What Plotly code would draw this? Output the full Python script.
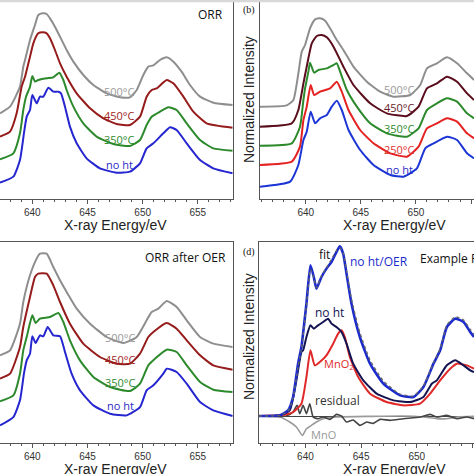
import plotly.graph_objects as go

W = H = 474

# ---------------- Panel (a): ORR ----------------
a_500_E = [637.07,637.98,638.88,639.18,639.34,639.79,640.24,640.54,640.94,641.30,641.60,642.05,642.51,643.11,643.72,644.62,645.53,646.74,647.95,648.85,649.46,650.06,650.51,650.97,651.57,652.18,652.78,653.53,654.29,655.20,656.40,658.16]
a_500_I = [2.57,2.77,3.37,3.97,4.17,4.77,5.22,5.52,5.57,5.55,5.42,5.17,4.87,4.47,4.12,3.72,3.42,3.17,3.05,3.05,3.27,3.72,3.97,4.01,4.17,4.25,4.12,3.82,3.42,3.07,2.89,2.82]
a_450_E = [637.07,637.98,638.58,639.03,639.34,639.79,640.09,640.54,640.94,641.30,641.60,642.05,642.51,643.11,644.02,645.23,646.44,647.64,648.85,649.76,650.36,650.82,651.27,652.18,652.78,653.69,654.59,655.80,658.16]
a_450_I = [1.87,2.02,2.57,3.37,3.67,4.27,4.67,4.97,5.00,4.97,4.82,4.47,4.07,3.67,3.17,2.72,2.42,2.25,2.22,2.47,3.07,3.27,3.32,3.57,3.47,3.07,2.62,2.27,2.14]
a_350_E = [637.07,638.28,638.88,639.18,639.43,639.79,640.00,640.24,640.54,641.30,641.90,642.45,642.81,643.11,643.72,644.62,645.83,647.34,648.85,649.76,650.36,650.82,651.57,652.33,653.08,653.99,655.20,656.40,658.16]
a_350_I = [1.19,1.37,1.97,2.67,3.07,3.37,3.69,3.52,3.57,3.62,3.65,3.79,3.57,3.27,2.77,2.27,1.87,1.65,1.59,1.77,2.22,2.47,2.62,2.75,2.67,2.27,1.77,1.52,1.45]
a_noht_E = [637.07,638.28,638.88,639.24,639.49,639.79,640.00,640.39,640.69,641.00,641.45,641.90,642.36,642.60,642.96,643.41,644.02,644.92,646.13,647.64,648.85,649.76,650.36,650.97,651.87,652.48,653.08,653.99,655.20,656.40,658.16]
a_noht_I = [0.49,0.67,1.17,1.97,2.47,2.67,3.12,2.87,3.07,3.07,3.34,3.22,3.22,3.17,2.77,2.17,1.67,1.22,0.92,0.79,0.82,1.07,1.52,1.67,1.97,2.15,2.07,1.67,1.17,0.92,0.77]

# ---------------- Panel (b) ----------------
b_500_E = [635.85,638.27,638.88,639.33,639.64,639.94,640.39,640.85,641.30,641.76,642.21,642.82,643.42,644.33,645.55,646.76,647.97,649.48,650.39,651.00,651.91,652.82,653.73,654.64,655.27]
b_500_I = [2.77,2.81,2.97,3.77,4.42,4.62,5.12,5.39,5.42,5.35,5.12,4.77,4.47,3.97,3.52,3.22,3.07,3.12,3.42,3.92,4.07,4.25,4.07,3.77,3.57]
b_450_E = [635.85,638.73,639.33,639.79,640.09,640.55,641.00,641.45,641.91,642.52,643.42,644.33,645.85,647.36,649.18,650.24,651.00,651.91,652.82,653.73,654.64,655.27]
b_450_I = [2.17,2.27,2.67,3.47,3.97,4.67,4.89,4.92,4.85,4.57,3.97,3.42,2.87,2.57,2.49,2.77,3.32,3.47,3.67,3.52,3.17,2.97]
b_350_E = [635.85,638.73,639.48,639.79,639.94,640.24,640.39,640.76,641.15,641.91,642.52,642.82,643.12,643.73,644.64,645.85,647.36,649.18,650.24,651.00,651.91,652.82,653.73,654.64,655.27]
b_350_I = [1.60,1.67,2.17,2.97,3.32,3.82,4.09,3.79,3.87,3.92,4.02,4.07,3.82,3.27,2.77,2.27,1.97,1.87,2.12,2.67,2.87,3.02,2.92,2.57,2.42]
b_250_E = [635.85,638.73,639.48,639.79,640.09,640.45,640.76,641.30,642.21,642.82,643.27,643.88,644.94,646.15,647.67,649.18,650.24,651.00,651.91,652.82,653.73,654.64,655.27]
b_250_I = [1.02,1.12,1.57,2.37,2.77,3.42,3.12,3.22,3.32,3.52,3.22,2.67,2.07,1.67,1.37,1.27,1.57,2.12,2.27,2.42,2.32,1.97,1.82]
b_noht_E = [635.85,638.58,639.33,639.79,640.09,640.45,640.85,641.30,641.91,642.36,642.82,643.27,643.88,644.94,646.15,647.67,648.88,650.09,650.85,651.61,652.82,653.73,654.64,655.27]
b_noht_I = [0.37,0.52,1.02,1.77,2.02,2.62,2.27,2.42,2.52,2.77,2.95,2.67,2.07,1.47,1.02,0.72,0.67,0.92,1.52,1.67,1.87,1.77,1.37,1.22]

# ---------------- Panel (c): ORR after OER ----------------
c_500_E = [637.07,637.98,638.88,639.18,639.79,640.39,640.69,641.30,641.90,642.51,643.11,644.02,645.23,646.74,648.25,649.46,650.36,650.82,651.42,652.18,653.08,653.99,655.20,656.40,658.16]
c_500_I = [2.62,2.77,3.57,4.22,5.02,5.52,5.67,5.67,5.27,4.87,4.52,4.02,3.57,3.17,2.99,3.17,3.67,3.92,4.02,4.25,4.07,3.67,3.17,2.97,2.87]
c_450_E = [637.07,637.98,638.88,639.18,639.79,640.24,640.54,641.30,641.90,642.51,643.41,644.62,646.13,647.64,648.85,649.76,650.51,650.97,652.18,653.08,653.99,655.20,656.40,658.16]
c_450_I = [1.92,2.07,2.87,3.47,4.37,4.97,5.07,5.07,4.72,4.22,3.57,2.97,2.57,2.37,2.37,2.67,3.17,3.32,3.59,3.42,3.07,2.62,2.32,2.19]
c_350_E = [637.07,638.28,638.88,639.18,639.49,640.00,640.30,640.69,641.60,642.36,642.81,643.41,644.32,645.53,647.04,648.85,649.76,650.51,651.12,652.18,653.08,653.99,655.20,656.40,658.16]
c_350_I = [1.24,1.42,2.07,2.77,3.17,3.82,3.59,3.72,3.77,3.89,3.62,3.07,2.47,1.97,1.67,1.55,1.77,2.32,2.52,2.79,2.72,2.32,1.82,1.59,1.52]
c_noht_E = [637.07,638.28,638.88,639.24,639.49,639.79,640.00,640.30,640.69,641.00,641.39,641.90,642.51,642.96,643.56,644.32,645.53,647.04,648.55,649.76,650.36,650.97,651.87,652.18,653.08,653.99,655.20,656.40,658.16]
c_noht_I = [0.52,0.77,1.27,2.07,2.47,2.67,3.19,2.99,3.22,3.19,3.47,3.22,3.19,2.72,2.07,1.57,1.12,0.87,0.82,1.07,1.57,1.72,2.07,2.22,2.12,1.77,1.22,0.97,0.80]

# ---------------- Panel (d): Example fit ----------------
d_oer_E = [635.83,637.69,638.44,638.89,639.34,639.64,640.09,640.45,640.75,640.99,641.44,641.89,642.34,642.79,643.09,643.39,643.69,644.14,644.89,645.80,647.00,648.50,649.70,650.60,651.50,652.10,652.70,653.45,654.20,654.80,655.14]
d_oer_I = [0,0.02,0.17,0.57,1.57,2.07,3.37,4.52,4.17,3.82,4.17,4.42,4.62,4.92,5.09,4.87,4.27,3.37,2.37,1.57,0.97,0.62,0.57,0.87,1.57,1.97,2.67,2.92,2.82,2.52,2.37]
d_fit_I = [0,0.02,0.15,0.55,1.50,2.00,3.30,4.40,4.15,3.85,4.20,4.45,4.70,4.97,5.05,4.90,4.35,3.50,2.50,1.68,1.05,0.66,0.60,0.90,1.60,2.02,2.72,2.98,2.88,2.60,2.45]
d_noht_E = [635.83,637.69,638.59,639.19,639.64,639.79,640.09,640.45,640.75,641.14,641.59,642.04,642.34,642.79,643.24,643.69,644.29,645.20,646.40,647.90,649.40,650.60,651.35,651.80,652.70,653.45,654.20,654.80,655.14]
d_noht_I = [0,0.02,0.17,1.07,1.92,1.97,2.37,2.72,2.62,2.72,2.82,2.92,2.77,2.67,2.52,2.17,1.57,1.07,0.67,0.47,0.42,0.57,0.97,1.07,1.52,1.67,1.52,1.37,1.32]
d_mno2_E = [635.83,637.69,638.89,639.64,640.09,640.45,640.84,641.29,641.89,642.49,642.94,643.24,643.54,643.99,644.74,645.80,647.30,648.80,650.30,651.20,652.10,653.00,653.60,654.50,655.14]
d_mno2_I = [0,0.02,0.12,0.37,1.17,1.97,1.52,1.62,1.82,2.17,2.47,2.57,2.37,1.77,1.17,0.67,0.42,0.32,0.37,0.67,1.07,1.42,1.57,1.52,1.42]
d_res_E = [635.83,638.29,638.89,639.25,639.49,639.79,640.09,640.39,640.69,641.14,641.59,642.19,642.79,643.24,643.69,644.29,644.89,645.50,646.10,646.70,647.60,648.80,650.30,651.20,651.80,652.70,653.60,654.50,655.14]
d_res_I = [0,0,0.12,0.32,0.07,0.32,0.07,0.37,-0.03,-0.08,-0.03,-0.10,0.05,0.0,-0.18,-0.12,-0.28,-0.18,-0.22,-0.10,-0.13,-0.08,-0.03,0.05,-0.03,0.02,-0.08,-0.03,-0.08]
d_mno_E = [635.83,637.69,638.59,639.19,639.73,640.09,640.54,640.99,641.59,642.79,645.80,648.80,650.60,651.80,652.70,653.60,655.14]
d_mno_I = [0,-0.03,-0.18,-0.33,-0.58,-0.38,-0.28,-0.18,-0.08,-0.03,-0.01,0,-0.03,-0.08,-0.08,-0.03,-0.01]

GRAY = "#8e8e8e"
fig = go.Figure()

def add(E, I, color, ax, width=2.0, dash=None):
    fig.add_trace(go.Scatter(
        x=E, y=I, mode="lines", xaxis="x" + ax, yaxis="y" + ax,
        line=dict(color=color, width=width, shape="spline", smoothing=0.5, dash=dash),
        showlegend=False, hoverinfo="skip"))

add(a_500_E, a_500_I, GRAY, "")
add(a_450_E, a_450_I, "#961c1c", "")
add(a_350_E, a_350_I, "#2c8a2c", "")
add(a_noht_E, a_noht_I, "#2626d0", "")

add(b_500_E, b_500_I, GRAY, "2")
add(b_450_E, b_450_I, "#5a0d1c", "2")
add(b_350_E, b_350_I, "#2c8a2c", "2")
add(b_250_E, b_250_I, "#e42222", "2")
add(b_noht_E, b_noht_I, "#1c36d6", "2")

add(c_500_E, c_500_I, GRAY, "3")
add(c_450_E, c_450_I, "#961c1c", "3")
add(c_350_E, c_350_I, "#2c8a2c", "3")
add(c_noht_E, c_noht_I, "#2626d0", "3")

add(d_mno_E, d_mno_I, "#9a9a9a", "4", 1.6)
add(d_res_E, d_res_I, "#444444", "4", 1.6)
add(d_mno2_E, d_mno2_I, "#e02828", "4")
add(d_noht_E, d_noht_I, "#141452", "4")
add(d_oer_E, d_oer_I, "#1c2ccc", "4", 2.6)
add(d_oer_E, d_fit_I, "#666666", "4", 1.3, "dot")

def px(x):
    return x / W

def py(y):
    return 1 - y / H

AX = "#555555"
tickfont = dict(family="Liberation Sans, Arial", size=10, color="#333333")

def xax(domain, rng, anchor, mirror):
    return dict(domain=domain, range=rng, anchor=anchor, showline=True, linecolor=AX,
                linewidth=1, mirror=mirror, ticks="outside", ticklen=4, tickcolor=AX,
                tick0=640, dtick=5, tickfont=tickfont, showgrid=False, zeroline=False,
                minor=dict(ticks="outside", ticklen=2, dtick=1, tickcolor=AX, showgrid=False))

def yax(domain, rng, anchor, side, zeroline=False):
    return dict(domain=domain, range=rng, anchor=anchor, side=side, showline=True,
                linecolor=AX, linewidth=1, mirror=False, ticks="", showticklabels=False,
                showgrid=False, zeroline=zeroline, zerolinecolor="#444444", zerolinewidth=1.3)

top_dom = [py(199), 1.0]
bot_dom = [py(442.7), py(242.3)]

fig.update_layout(
    width=W, height=H, margin=dict(l=0, r=0, t=0, b=0),
    paper_bgcolor="white", plot_bgcolor="white",
    xaxis=xax([0, px(232.7)], [637.07, 658.16], "y", False),
    yaxis=yax(top_dom, [0, 5.97], "x", "right"),
    xaxis2=xax([px(260), 1], [635.85, 655.27], "y2", False),
    yaxis2=yax(top_dom, [0, 5.97], "x2", "left"),
    xaxis3=xax([0, px(232.7)], [637.07, 658.16], "y3", True),
    yaxis3=yax(bot_dom, [0, 6.01], "x3", "right"),
    xaxis4=xax([px(259), 1], [635.83, 655.14], "y4", True),
    yaxis4=yax(bot_dom, [-0.80, 5.21], "x4", "left", zeroline=True),
)

fig.add_shape(type="rect", xref="paper", yref="paper", x0=0, x1=1, y0=py(2.3), y1=1,
              fillcolor="#d8d8d8", line=dict(width=0), layer="above")

LBL = "Open Sans"
ann = []

def text(t, x, y, color="black", size=11, family=LBL, xanchor="center", angle=0):
    ann.append(dict(text=t, x=px(x), y=py(y), xref="paper", yref="paper", showarrow=False,
                    xanchor=xanchor, yanchor="middle", textangle=angle,
                    font=dict(family=family, size=size, color=color)))

# axis titles
for cx, cy in [(115.5, 225), (394, 225), (115.5, 468.5), (394, 468.5)]:
    text("X-ray Energy/eV", cx, cy, "#222222", 14, "Liberation Sans, Arial")
text("Normalized Intensity", 249, 100, "#222222", 14, "Liberation Sans, Arial", angle=-90)
text("Normalized Intensity", 249, 337, "#222222", 14, "Liberation Sans, Arial", angle=-90)

# panel tags
text("ORR", 210, 15, "#111111", 12)
text("(b)", 249, 10, "#111111", 10, "Liberation Serif")
text("ORR after OER", 185, 257, "#111111", 12)
text("(d)", 249, 252, "#111111", 10, "Liberation Serif")
text("Example Fit", 418, 258, "#111111", 12, xanchor="left")

# temperature labels
for t, y, c in [("500°C", 92, "#9a9a9a"), ("450°C", 115, "#a02424"),
                ("350°C", 139, "#2c8a2c"), ("no ht", 164, "#2a2ac4")]:
    text(t, 119, y, c, 11)
for t, y, c in [("500°C", 89, "#9a9a9a"), ("450°C", 107.5, "#6a1a2a"),
                ("350°C", 128.5, "#2c8a2c"), ("250°C", 149, "#e03030"),
                ("no ht", 169.5, "#2a2ac4")]:
    text(t, 399, y, c, 11)
for t, y, c in [("500°C", 337, "#9a9a9a"), ("450°C", 359.5, "#a02424"),
                ("350°C", 382, "#2c8a2c"), ("no ht", 405, "#2a2ac4")]:
    text(t, 120, y, c, 11)

text("fit", 324, 254, "#111111", 12)
text("no ht/OER", 379, 261, "#1c2ccc", 12)
text("no ht", 329, 312, "#141452", 12)
text("MnO<sub>2</sub>", 339, 364, "#e02828", 11)
text("residual", 337, 400, "#333333", 12)
text("MnO", 323, 434, "#9a9a9a", 11)

fig.update_layout(annotations=ann)
fig.write_html("out.html", config={"displayModeBar": False},
               post_script="document.body.style.margin='0';document.body.style.overflow='hidden';")
